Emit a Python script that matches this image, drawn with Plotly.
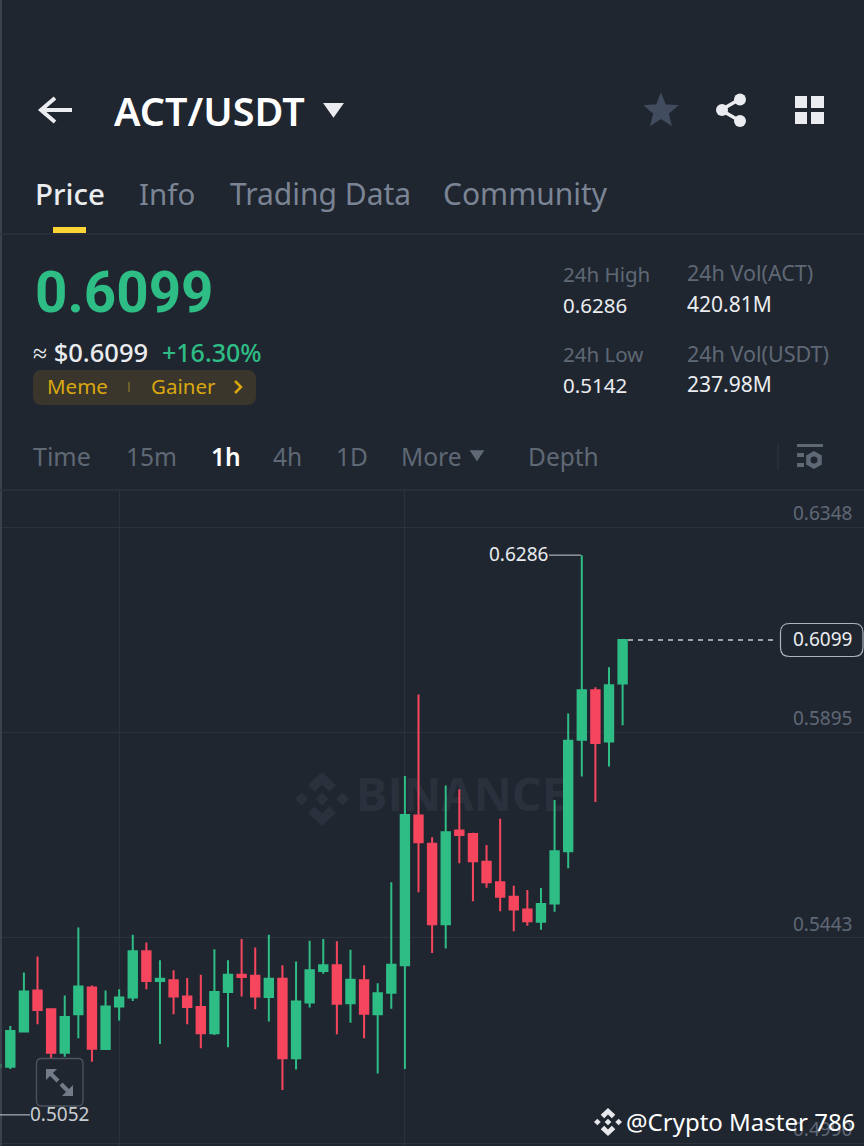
import math
import plotly.graph_objects as go

# hourly candles
opens = [0.5158, 0.5158, 0.5236, 0.5326, 0.5285, 0.5189, 0.5274, 0.5333, 0.5197, 0.5291, 0.5311, 0.5413,
         0.5347, 0.5349, 0.5313, 0.5290, 0.5232, 0.5323, 0.5361, 0.5359, 0.5312, 0.5352, 0.5177, 0.5300,
         0.5369, 0.5382, 0.5298, 0.5349, 0.5274, 0.5321, 0.5382, 0.5712, 0.5650, 0.5472, 0.5679, 0.5671,
         0.5610, 0.5565, 0.5533, 0.5505, 0.5478, 0.5518, 0.5633, 0.5879, 0.5988, 0.5875, 0.6003]
highs = [0.5162, 0.5248, 0.5366, 0.5401, 0.5287, 0.5315, 0.5465, 0.5337, 0.5326, 0.5329, 0.5449, 0.5432,
         0.5393, 0.5371, 0.5354, 0.5361, 0.5417, 0.5393, 0.5440, 0.5421, 0.5449, 0.5382, 0.5390, 0.5436,
         0.5440, 0.5435, 0.5416, 0.5382, 0.5342, 0.5565, 0.5799, 0.5979, 0.5664, 0.5778, 0.5770, 0.5674,
         0.5647, 0.5705, 0.5557, 0.5548, 0.5552, 0.5746, 0.5937, 0.6286, 0.5995, 0.6039, 0.6099]
lows = [0.5158, 0.5153, 0.5235, 0.5252, 0.5173, 0.5180, 0.5221, 0.5169, 0.5197, 0.5260, 0.5303, 0.5329,
        0.5208, 0.5274, 0.5252, 0.5199, 0.5228, 0.5201, 0.5313, 0.5285, 0.5258, 0.5107, 0.5152, 0.5289,
        0.5363, 0.5230, 0.5255, 0.5221, 0.5143, 0.5286, 0.5153, 0.5543, 0.5409, 0.5419, 0.5607, 0.5523,
        0.5553, 0.5501, 0.5457, 0.5469, 0.5460, 0.5500, 0.5596, 0.5798, 0.5742, 0.5820, 0.5911]
closes = [0.5162, 0.5237, 0.5324, 0.5283, 0.5189, 0.5268, 0.5335, 0.5198, 0.5291, 0.5311, 0.5413, 0.5347,
          0.5352, 0.5313, 0.5290, 0.5232, 0.5323, 0.5361, 0.5356, 0.5313, 0.5352, 0.5177, 0.5302, 0.5371,
          0.5382, 0.5297, 0.5350, 0.5275, 0.5320, 0.5383, 0.5713, 0.5653, 0.5472, 0.5675, 0.5669, 0.5611,
          0.5565, 0.5533, 0.5505, 0.5479, 0.5517, 0.5633, 0.5877, 0.5988, 0.5872, 0.5999, 0.6099]
candle_idx = list(range(len(opens)))

price_ticks = [0.6348, 0.5895, 0.5443, 0.4990]
price_labels = ["0.6348", "0.5895", "0.5443", "0.4990"]
time_grid = [9, 30]
last_price = 0.6099
high_price = 0.6286
low_price = 0.5052

BG = "#1f2630"
GREEN = "#2ebd85"
RED = "#f6465d"
WHITE = "#eaecef"
GREY = "#7a8494"
DIM = "#5f6875"
GRID = "#2b323d"
MARK = "#2a313c"
FONT = "Noto Sans"

fig = go.Figure()

# watermark sits on the page subplot, so candles draw over it
fig.add_trace(go.Scatter(x=[462], y=[799], mode="text", text=["BINANCE"], hoverinfo="skip", showlegend=False,
                         textfont=dict(family="Open Sans", size=47, color=MARK, weight=700),
                         xaxis="x", yaxis="y"))

fig.add_trace(go.Candlestick(
    x=candle_idx,
    open=opens,
    high=highs,
    low=lows,
    close=closes,
    increasing=dict(line=dict(color=GREEN, width=2), fillcolor=GREEN),
    decreasing=dict(line=dict(color=RED, width=2), fillcolor=RED),
    whiskerwidth=0,
    showlegend=False,
    hoverinfo="skip",
    xaxis="x2",
    yaxis="y2",
))

shapes = []
notes = []


def txt(x, y, s, size, color, weight=400, anchor="left", family=FONT, yref="y", up=1):
    notes.append(dict(x=x - 1.5 if anchor == "left" else x, y=y, xref="x", yref=yref, text=s, showarrow=False,
                      xanchor=anchor, yanchor="middle", borderpad=0, yshift=up,
                      font=dict(family=family, size=size, color=color, weight=weight)))


def line(x0, y0, x1, y1, color, width=1, dash="solid", yref="y"):
    shapes.append(dict(type="line", xref="x", yref=yref, x0=x0, y0=y0, x1=x1, y1=y1, layer="above",
                       line=dict(color=color, width=width, dash=dash)))


def rect(x0, y0, x1, y1, color):
    shapes.append(dict(type="rect", xref="x", yref="y", x0=x0, y0=y0, x1=x1, y1=y1, layer="above",
                       fillcolor=color, line=dict(width=0)))


def poly(pts, color, width=0, layer="above", close=True, fill=True):
    d = "M" + " L".join(f"{a:.2f},{b:.2f}" for a, b in pts) + (" Z" if close else "")
    shapes.append(dict(type="path", xref="x", yref="y", path=d, layer=layer,
                       fillcolor=color if fill else "rgba(0,0,0,0)",
                       line=dict(color=color, width=width)))


def round_box(x0, y0, x1, y1, r, fill, stroke=None, width=1):
    d = (f"M{x0 + r},{y0} L{x1 - r},{y0} Q{x1},{y0} {x1},{y0 + r} L{x1},{y1 - r} Q{x1},{y1} {x1 - r},{y1} "
         f"L{x0 + r},{y1} Q{x0},{y1} {x0},{y1 - r} L{x0},{y0 + r} Q{x0},{y0} {x0 + r},{y0} Z")
    shapes.append(dict(type="path", xref="x", yref="y", path=d, layer="above", fillcolor=fill,
                       line=dict(color=stroke or fill, width=width if stroke else 0)))


def circle(cx, cy, r, color):
    shapes.append(dict(type="circle", xref="x", yref="y", x0=cx - r, y0=cy - r, x1=cx + r, y1=cy + r,
                       layer="above", fillcolor=color, line=dict(width=0)))


def logo(cx, cy, r, color, layer="above"):
    s = r * 0.24
    for dx in (-0.76 * r, 0, 0.76 * r):
        poly([(cx + dx, cy - s), (cx + dx + s, cy), (cx + dx, cy + s), (cx + dx - s, cy)], color, layer=layer)
    for sign in (-1, 1):
        poly([(cx, cy + sign * r), (cx + 0.52 * r, cy + sign * 0.52 * r), (cx + 0.27 * r, cy + sign * 0.27 * r),
              (cx, cy + sign * 0.54 * r), (cx - 0.27 * r, cy + sign * 0.27 * r),
              (cx - 0.52 * r, cy + sign * 0.52 * r)], color, layer=layer)


# header
line(1, 0, 1, 1146, "#474d57", 1.5)
poly([(55, 98), (41, 110), (55, 122)], WHITE, 4, close=False, fill=False)
line(41, 110, 72, 110, WHITE, 4)
txt(114, 112, "ACT/USDT", 39.5, "#ffffff", 600)
poly([(325, 104), (342, 104), (333.5, 116)], WHITE, 2)
star = [(661 + (16 if i % 2 == 0 else 7) * math.sin(i * math.pi / 5),
         111 - (16 if i % 2 == 0 else 7) * math.cos(i * math.pi / 5)) for i in range(10)]
poly(star, "#414c5e", 2)
line(721, 110, 740, 99, WHITE, 3.5)
line(721, 110, 740, 121, WHITE, 3.5)
circle(740, 99.5, 6, WHITE)
circle(740, 121, 6, WHITE)
circle(722, 110, 6, WHITE)
rect(795, 96, 807, 108, WHITE)
rect(811, 96, 824, 108, WHITE)
rect(795, 112, 807, 124, WHITE)
rect(811, 112, 824, 124, WHITE)

# tabs
txt(35, 194, "Price", 29.5, WHITE, 500)
txt(139, 194, "Info", 29.5, GREY)
txt(230, 194, "Trading Data", 30, GREY)
txt(443, 194, "Community", 30, GREY)
rect(53, 227, 86, 233, "#fcd535")
line(0, 234, 864, 234, GRID, 1.5)

# price block
txt(35, 293, "0.6099", 56.5, GREEN, 700, family="Roboto", up=0)
txt(33, 353, "≈ $0.6099", 25.5, WHITE, 500)
txt(162, 353, "+16.30%", 25, GREEN, 500)
round_box(33, 370, 256, 405, 9, "#3a362c")
txt(47, 387, "Meme", 20.5, "#d9a70f")
txt(151, 387, "Gainer", 20.5, "#d9a70f")
line(129, 382, 129, 392, "#6b5f2a", 2)
poly([(235, 381), (241, 387), (235, 393)], "#d9a70f", 2.5, close=False, fill=False)

txt(563, 275, "24h High", 20.5, DIM)
txt(563, 306, "0.6286", 20.5, WHITE)
txt(687, 273, "24h Vol(ACT)", 21.5, DIM)
txt(687, 305, "420.81M", 21, WHITE)
txt(563, 355, "24h Low", 20.5, DIM)
txt(563, 386, "0.5142", 20.5, WHITE)
txt(687, 354, "24h Vol(USDT)", 21.5, DIM)
txt(687, 385, "237.98M", 21, WHITE)

# interval row
txt(33, 457, "Time", 25, DIM)
txt(126, 457, "15m", 24.5, DIM)
txt(211, 457, "1h", 24.5, "#ffffff", 600)
txt(273, 457, "4h", 24.5, DIM)
txt(336, 457, "1D", 24.5, DIM)
txt(401, 457, "More", 24.5, DIM)
poly([(471, 451), (483, 451), (477, 460)], DIM, 1.5)
txt(528, 457, "Depth", 24.5, DIM)
line(778, 444, 778, 470, GRID, 1.5)
rect(797, 444, 823, 447, DIM)
rect(797, 453, 804, 457, DIM)
rect(797, 463, 804, 467, DIM)
hexagon = [(814 + 9 * math.sin(i * math.pi / 3), 460 + 9 * math.cos(i * math.pi / 3)) for i in range(6)]
poly(hexagon, DIM)
circle(814, 460, 3.5, BG)
line(0, 490, 864, 490, GRID, 1.5)

# chart labels
for tick, lab in zip(price_ticks, price_labels):
    txt(853, tick, lab, 19, DIM, anchor="right", yref="y2", up=14)

line(549, high_price, 581, high_price, "#c9ccd1", 1, yref="y2")
txt(549, high_price, f"{high_price:.4f}", 19, WHITE, anchor="right", yref="y2")
line(0, low_price, 30, low_price, "#c9ccd1", 1, yref="y2")
txt(30, low_price, f"{low_price:.4f}", 19, "#c9ccd1", yref="y2")
line(628, last_price, 776, last_price, "#c9ccd1", 1.5, dash="5px,5px", yref="y2")
round_box(780.5, 623.5, 863, 656.5, 9, BG, "#aeb4bc", 1.2)
txt(853, last_price, f"{last_price:.4f}", 19, WHITE, anchor="right", yref="y2")

# expand button
round_box(36.5, 1058.5, 83, 1106, 5, BG, "#4c5460", 1.3)
line(49, 1072, 58, 1081, "#737b88", 4)
line(61, 1084, 70, 1093, "#737b88", 4)
poly([(46, 1069), (57, 1069), (46, 1080)], "#737b88")
poly([(73, 1096), (62, 1096), (73, 1085)], "#737b88")

# watermarks
logo(322, 799, 27, MARK, layer="below")
logo(608, 1122, 14, "#e6e8eb")
txt(626, 1122, "@Crypto Master 786", 24, "#ffffff")

fig.update_layout(
    width=864,
    height=1146,
    margin=dict(l=0, r=0, t=0, b=0),
    paper_bgcolor=BG,
    plot_bgcolor="rgba(0,0,0,0)",
    showlegend=False,
    boxgap=0.12,
    shapes=shapes,
    annotations=notes,
    xaxis=dict(domain=[0, 1], range=[0, 864], visible=False, fixedrange=True),
    yaxis=dict(domain=[0, 1], range=[1146, 0], visible=False, fixedrange=True),
    xaxis2=dict(domain=[0, 1], anchor="y2", range=[0.243, 63.74], rangeslider=dict(visible=False),
                tickmode="array", tickvals=time_grid, showticklabels=False, ticks="",
                showgrid=True, gridcolor=GRID, gridwidth=1, zeroline=False, showline=False),
    yaxis2=dict(domain=[0, 0.57243], anchor="x2", range=[0.49834, 0.64296],
                tickmode="array", tickvals=price_ticks, showticklabels=False, ticks="",
                showgrid=True, gridcolor=GRID, gridwidth=1, zeroline=False, showline=False),
)

fig.write_html("out.html", config=dict(displayModeBar=False),
               post_script="document.body.style.margin='0';")
